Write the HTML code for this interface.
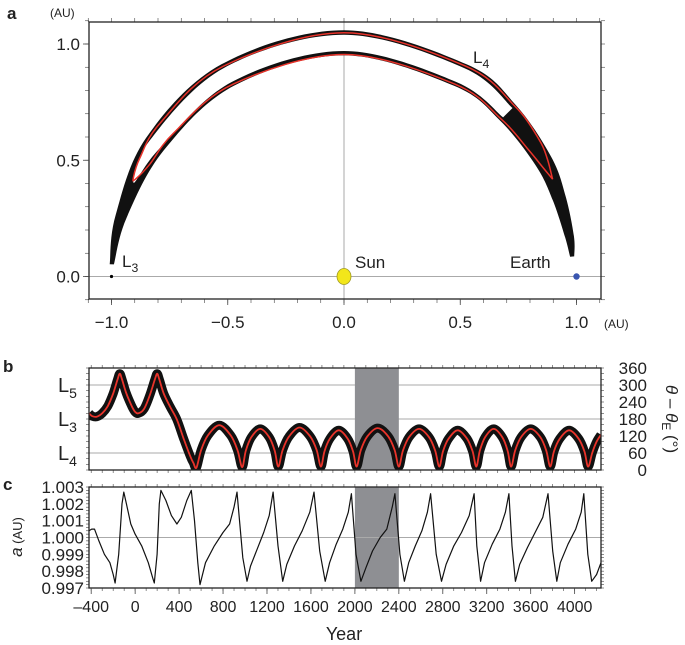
<!DOCTYPE html>
<html><head><meta charset="utf-8"><style>
html,body{margin:0;padding:0;background:#fff}
svg{display:block}
text{font-family:"Liberation Sans",sans-serif;fill:#222}
</style></head><body>
<svg id="fig" width="685" height="645" viewBox="0 0 685 645">
<defs>
<clipPath id="clipA"><rect x="89" y="22" width="512" height="277"/></clipPath>
<clipPath id="clipB"><rect x="89" y="368" width="512" height="102"/></clipPath>
<clipPath id="clipC"><rect x="89" y="487" width="512" height="101"/></clipPath>
</defs>
<g id="panelA"></g>
<g id="panelB"></g>
<g id="panelC"></g>
</svg>
<script>
// ---- Panel a data (polar: angle deg from Earth, radius AU)
const bandAngles = [5, 10, 20, 30, 45, 60, 90, 120, 145, 165, 177];
const bandOuter  = [0.985, 0.995, 1.005, 1.02, 1.035, 1.045, 1.05, 1.045, 1.03, 1.008, 1.0];
const bandInner  = [0.985, 0.975, 0.965, 0.962, 0.958, 0.956, 0.96, 0.956, 0.955, 0.978, 1.0];
const redOuterAngles = [25, 30, 35, 45, 60, 90, 120, 140, 150, 155];
const redOuterR      = [0.99, 1.01, 1.025, 1.038, 1.045, 1.048, 1.043, 1.03, 1.015, 1.0];
const redInnerAngles = [155, 150, 140, 120, 90, 60, 45, 35, 30, 25];
const redInnerR      = [0.99, 0.965, 0.958, 0.955, 0.955, 0.955, 0.957, 0.962, 0.972, 0.99];
const axA_ticks = [-1.0, -0.5, 0.0, 0.5, 1.0];
const axA_labels = ["−1.0", "−0.5", "0.0", "0.5", "1.0"];
const ayA_ticks = [0.0, 0.5, 1.0];
const ayA_labels = ["0.0", "0.5", "1.0"];

// ---- Panel b data: theta - theta_E (deg) vs year
const thetaYears = [-420,-390,-350,-300,-250,-200,-160,-140,-120,-80,-30,0,30,80,130,180,200,220,260,320,380,440,500,530,558,
 600,662,766,870,932,974, 1007,1056,1138,1221,1270,1303, 1342,1400,1497,1594,1652,1691,
 1723,1772,1853,1935,1983,2016, 2054,2112,2208,2304,2362,2400, 2437,2492,2584,2676,2731,2768,
 2802,2852,2936,3021,3071,3105, 3137,3184,3263,3343,3390,3422, 3458,3511,3600,3689,3742,3778,
 3812,3864,3950,4037,4089,4123, 4160,4200,4240];
const thetaValues = [200,190,188,200,225,270,320,340,320,270,225,205,200,215,260,320,340,320,270,222,178,112,50,25,8,
 70,122,158,122,70,10, 68,115,145,115,68,12, 70,118,150,118,70,12,
 66,110,140,110,66,12, 70,118,148,118,70,12, 68,115,145,115,68,12,
 66,110,140,110,66,12, 68,115,145,115,68,12, 68,115,145,115,68,12,
 66,110,140,110,66,12, 60,100,125];
const bTicksRight = [0,60,120,180,240,300,360];
const bGridValues = [60,180,300];
const bGridLabels = ["4","3","5"];

// ---- Panel c data: a (AU) vs year
const aYears = [-420,-395,-370,-330,-280,-230,-200,-182,-150,-120,-103,-80,-40,0,60,120,160,174,200,220,234,280,330,380,420,470,511,540,570,590,
 640,720,800,860,900,927,980,1018, 1050,1110,1170,1220,1256,1300,1343,
 1380,1450,1520,1590,1628,1680,1730, 1770,1830,1890,1940,1968,2010,2055,
 2100,2160,2230,2290,2340,2364,2410,2451, 2490,2550,2610,2660,2689,2740,2788,
 2830,2900,2970,3040,3085,3110,3144, 3180,3250,3320,3370,3402,3430,3461,
 3500,3570,3640,3710,3758,3800,3838, 3870,3940,4010,4060,4083,4120,4155,4200,4240];
const aValues = [1.0004,1.0005,1.0005,0.9998,0.9990,0.9985,0.9978,0.9973,0.9990,1.0020,1.0027,1.0020,1.0008,1.0002,0.9995,0.9985,0.9976,0.9973,0.9990,1.0020,1.0028,1.0022,1.0013,1.0008,1.0012,1.0022,1.0028,1.0010,0.9985,0.9972,
 0.9985,0.9995,1.0003,1.0008,1.0018,1.0027,0.9988,0.9974, 0.9983,0.9993,1.0003,1.0013,1.0027,0.9995,0.9974,
 0.9984,0.9995,1.0004,1.0015,1.0027,0.9992,0.9974, 0.9985,0.9996,1.0005,1.0015,1.0026,0.9990,0.9974,
 0.9982,0.9992,1.0000,1.0005,1.0018,1.0026,0.9990,0.9974, 0.9985,0.9995,1.0004,1.0015,1.0026,0.9990,0.9974,
 0.9984,0.9995,1.0003,1.0013,1.0026,0.9995,0.9974, 0.9985,0.9996,1.0005,1.0015,1.0026,0.9995,0.9974,
 0.9984,0.9994,1.0003,1.0012,1.0026,0.9992,0.9974, 0.9985,0.9996,1.0005,1.0015,1.0026,0.9990,0.9974,0.9978,0.9985];
const cTicks = [0.997,0.998,0.999,1.000,1.001,1.002,1.003];
const cTickLabels = ["0.997","0.998","0.999","1.000","1.001","1.002","1.003"];
const yearTicks = [-400,0,400,800,1200,1600,2000,2400,2800,3200,3600,4000];
const yearLabels = ["–400","0","400","800","1200","1600","2000","2400","2800","3200","3600","4000"];
const shadeYears = [2000, 2400];

const NS = "http://www.w3.org/2000/svg";
function mk(parent, tag, attrs, txt){const e=document.createElementNS(NS,tag);for(const k in attrs)e.setAttribute(k,attrs[k]);if(txt!==undefined)e.textContent=txt;parent.appendChild(e);return e;}

const ax = v => 344 + v*232.5;
const ay = v => 276.5 - v*232.5;
const bx = y => 89 + (y + 420) * (512/4660);
const by = v => 470 - v*(102/360);
const cy = v => 537.5 - (v-1.0)*(101/0.006);

function smoothPath(pts){
  let d = "M"+pts[0][0].toFixed(1)+","+pts[0][1].toFixed(1);
  for(let i=0;i<pts.length-1;i++){
    const p0=pts[i-1]||pts[i],p1=pts[i],p2=pts[i+1],p3=pts[i+2]||p2;
    const c1=[p1[0]+(p2[0]-p0[0])/6,p1[1]+(p2[1]-p0[1])/6];
    const c2=[p2[0]-(p3[0]-p1[0])/6,p2[1]-(p3[1]-p1[1])/6];
    d+=" C"+c1[0].toFixed(1)+","+c1[1].toFixed(1)+" "+c2[0].toFixed(1)+","+c2[1].toFixed(1)+" "+p2[0].toFixed(1)+","+p2[1].toFixed(1);
  }
  return d;
}
function polar(phi,r){const a=phi*Math.PI/180;return [ax(r*Math.cos(a)), ay(r*Math.sin(a))];}
function minorTicksX(g,x0,x1,yTop,yBot,step,len){for(let x=x0;x<=x1+0.01;x+=step){mk(g,"line",{x1:x,y1:yTop,x2:x,y2:yTop-len,stroke:"#444","stroke-width":0.6});mk(g,"line",{x1:x,y1:yBot,x2:x,y2:yBot+len,stroke:"#444","stroke-width":0.6});}}
function minorTicksY(g,y0,y1,xL,xR,step,len){for(let y=y0;y<=y1+0.01;y+=step){mk(g,"line",{x1:xL,y1:y,x2:xL-len,y2:y,stroke:"#444","stroke-width":0.6});mk(g,"line",{x1:xR,y1:y,x2:xR+len,y2:y,stroke:"#444","stroke-width":0.6});}}

// ===== Panel A
const A = document.getElementById("panelA");
let t = mk(A,"text",{x:7,y:19,"font-size":17,"font-weight":"bold"},"a");


t = mk(A,"text",{x:50,y:17,"font-size":12},"(AU)");


minorTicksX(A,ax(-1.1),ax(1.1),22,299,ax(0.1)-ax(0),4);
minorTicksY(A,ay(1.1),ay(-0.1),89,601,ax(0.1)-ax(0),4);
let l = mk(A,"line",{x1:ax(0),y1:22,x2:ax(0),y2:299,stroke:"#aaa","stroke-width":1});


l = mk(A,"line",{x1:89,y1:ay(0),x2:601,y2:ay(0),stroke:"#aaa","stroke-width":1});


const gA = mk(A,"g",{"clip-path":"url(#clipA)"});
function bandPoly(rFn, off){return bandAngles.map((a,i)=>polar(a,rFn(i)+off));}
const outerHi = bandPoly(i=>bandOuter[i], 0.009);
const innerLo = bandPoly(i=>bandInner[i], -0.009);
let p = mk(gA,"path",{d:smoothPath(outerHi)+" L"+smoothPath(innerLo.slice().reverse()).slice(1)+"Z",fill:"#111"});


const gapAngles = bandAngles.filter(a=>a>=45&&a<=145);
const gapOuter = gapAngles.map(a=>{const i=bandAngles.indexOf(a);return polar(a,bandOuter[i]-0.01);});
const gapInner = gapAngles.map(a=>{const i=bandAngles.indexOf(a);return polar(a,bandInner[i]+0.01);});
const gapPts = gapOuter.concat([polar(156,0.99)]).concat(gapInner.slice().reverse());
p = mk(gA,"path",{d:smoothPath(gapPts)+"Z",fill:"#fff"});


const redPts = redOuterAngles.map((a,i)=>polar(a,redOuterR[i])).concat(redInnerAngles.map((a,i)=>polar(a,redInnerR[i])));
p = mk(gA,"path",{d:smoothPath(redPts)+"Z",fill:"none",stroke:"#e8332a","stroke-width":1.5});


let c = mk(A,"ellipse",{cx:ax(0),cy:ay(0),rx:7,ry:8,fill:"#f2e61a",stroke:"#a09a20","stroke-width":0.8});


c = mk(A,"circle",{cx:ax(1),cy:ay(0),r:3.2,fill:"#3a56b0"});


c = mk(A,"circle",{cx:ax(-1),cy:ay(0),r:1.6,fill:"#000"});


const mkSub=(x,y,main,sub,name,fs)=>{const tt=mk(A,"text",{x:x,y:y,"font-size":fs});mk(tt,"tspan",{},main);mk(tt,"tspan",{dy:5,"font-size":fs*0.72},sub);return tt;};
mkSub(122,267,"L","3","l3-label",17);
mkSub(473,63,"L","4","l4-label",17);
t = mk(A,"text",{x:355,y:268,"font-size":17},"Sun");


t = mk(A,"text",{x:510,y:268,"font-size":17},"Earth");


let fr = mk(A,"rect",{x:89,y:22,width:512,height:277,fill:"none",stroke:"#222","stroke-width":1.3});


axA_ticks.forEach((v,i)=>{
  mk(A,"line",{x1:ax(v),y1:299,x2:ax(v),y2:305,stroke:"#444","stroke-width":0.8});
  const tt = mk(A,"text",{x:ax(v),y:328,"font-size":17,"text-anchor":"middle"},axA_labels[i]);
  
  
});
t = mk(A,"text",{x:604,y:328,"font-size":12},"(AU)");


ayA_ticks.forEach((v,i)=>{
  mk(A,"line",{x1:89,y1:ay(v),x2:83,y2:ay(v),stroke:"#444","stroke-width":0.8});
  const tt = mk(A,"text",{x:80,y:ay(v)+6,"font-size":17,"text-anchor":"end"},ayA_labels[i]);
  
  
});

// ===== Panel B
const B = document.getElementById("panelB");
t = mk(B,"text",{x:3,y:372,"font-size":17,"font-weight":"bold"},"b");


minorTicksX(B,bx(-400),bx(4200),368,470,bx(100)-bx(0),3);
minorTicksY(B,368,470,89,601,by(0)-by(20),3);
const gB = mk(B,"g",{"clip-path":"url(#clipB)"});
bGridValues.forEach((v,i)=>{
  const gl = mk(gB,"line",{x1:89,y1:by(v),x2:601,y2:by(v),stroke:"#aaa","stroke-width":1});
  
  
  const tt = mk(B,"text",{x:58,y:by(v)+7,"font-size":20});
  mk(tt,"tspan",{},"L");
  mk(tt,"tspan",{dy:6,"font-size":14},bGridLabels[i]);
  
  
});
let sh = mk(B,"rect",{x:bx(shadeYears[0]),y:368,width:bx(shadeYears[1])-bx(shadeYears[0]),height:102,fill:"#8e8f93"});


const gB2 = mk(B,"g",{"clip-path":"url(#clipB)"});
const thetaPts = thetaYears.map((y,i)=>[bx(y),by(thetaValues[i])]);
p = mk(gB2,"path",{d:smoothPath(thetaPts),fill:"none",stroke:"#111","stroke-width":9,"stroke-linejoin":"round"});


p = mk(gB2,"path",{d:smoothPath(thetaPts),fill:"none",stroke:"#e8332a","stroke-width":1.8});


fr = mk(B,"rect",{x:89,y:368,width:512,height:102,fill:"none",stroke:"#222","stroke-width":1.3});


bTicksRight.forEach(v=>{
  const tt = mk(B,"text",{x:647,y:by(v)+6,"font-size":17,"text-anchor":"end"},String(v));
  
  
});
t = mk(B,"text",{x:0,y:0,"font-size":17,transform:"translate(666,419) rotate(90)","text-anchor":"middle"});
mk(t,"tspan",{"font-style":"italic"},"θ");
mk(t,"tspan",{}," – ");
mk(t,"tspan",{"font-style":"italic"},"θ");
mk(t,"tspan",{dy:4,"font-size":12},"E");
mk(t,"tspan",{dy:-4}," (°)");



// ===== Panel C
const C = document.getElementById("panelC");
t = mk(C,"text",{x:3,y:490,"font-size":17,"font-weight":"bold"},"c");


minorTicksX(C,bx(-400),bx(4200),487,588,bx(100)-bx(0),3);
minorTicksY(C,487,588,89,601,(cy(0.997)-cy(1.003))/30,3);
sh = mk(C,"rect",{x:bx(shadeYears[0]),y:487,width:bx(shadeYears[1])-bx(shadeYears[0]),height:101,fill:"#8e8f93"});


const gC = mk(C,"g",{"clip-path":"url(#clipC)"});
l = mk(gC,"line",{x1:89,y1:cy(1.0),x2:601,y2:cy(1.0),stroke:"#aaa","stroke-width":1});


const aPts = aYears.map((y,i)=>[bx(y),cy(aValues[i])]);
p = mk(gC,"path",{d:"M"+aPts.map(q=>q[0].toFixed(1)+","+q[1].toFixed(1)).join(" L"),fill:"none",stroke:"#111","stroke-width":1.2,"stroke-linejoin":"round"});


fr = mk(C,"rect",{x:89,y:487,width:512,height:101,fill:"none",stroke:"#222","stroke-width":1.3});


cTicks.forEach((v,i)=>{
  const tt = mk(C,"text",{x:84,y:cy(v)+6,"font-size":17,"text-anchor":"end"},cTickLabels[i]);
  
  
});
t = mk(C,"text",{x:0,y:0,"font-size":17,transform:"translate(22,537) rotate(-90)","text-anchor":"middle"});
mk(t,"tspan",{"font-style":"italic"},"a");
mk(t,"tspan",{"font-size":13}," (AU)");


yearTicks.forEach((v,i)=>{
  mk(C,"line",{x1:bx(v),y1:588,x2:bx(v),y2:594,stroke:"#444","stroke-width":0.8});
  const tt = mk(C,"text",{x:bx(v),y:612,"font-size":16,"text-anchor":"middle"},yearLabels[i]);
  
  
});
t = mk(C,"text",{x:344,y:640,"font-size":18,"text-anchor":"middle"},"Year");


</script>
</body></html>
